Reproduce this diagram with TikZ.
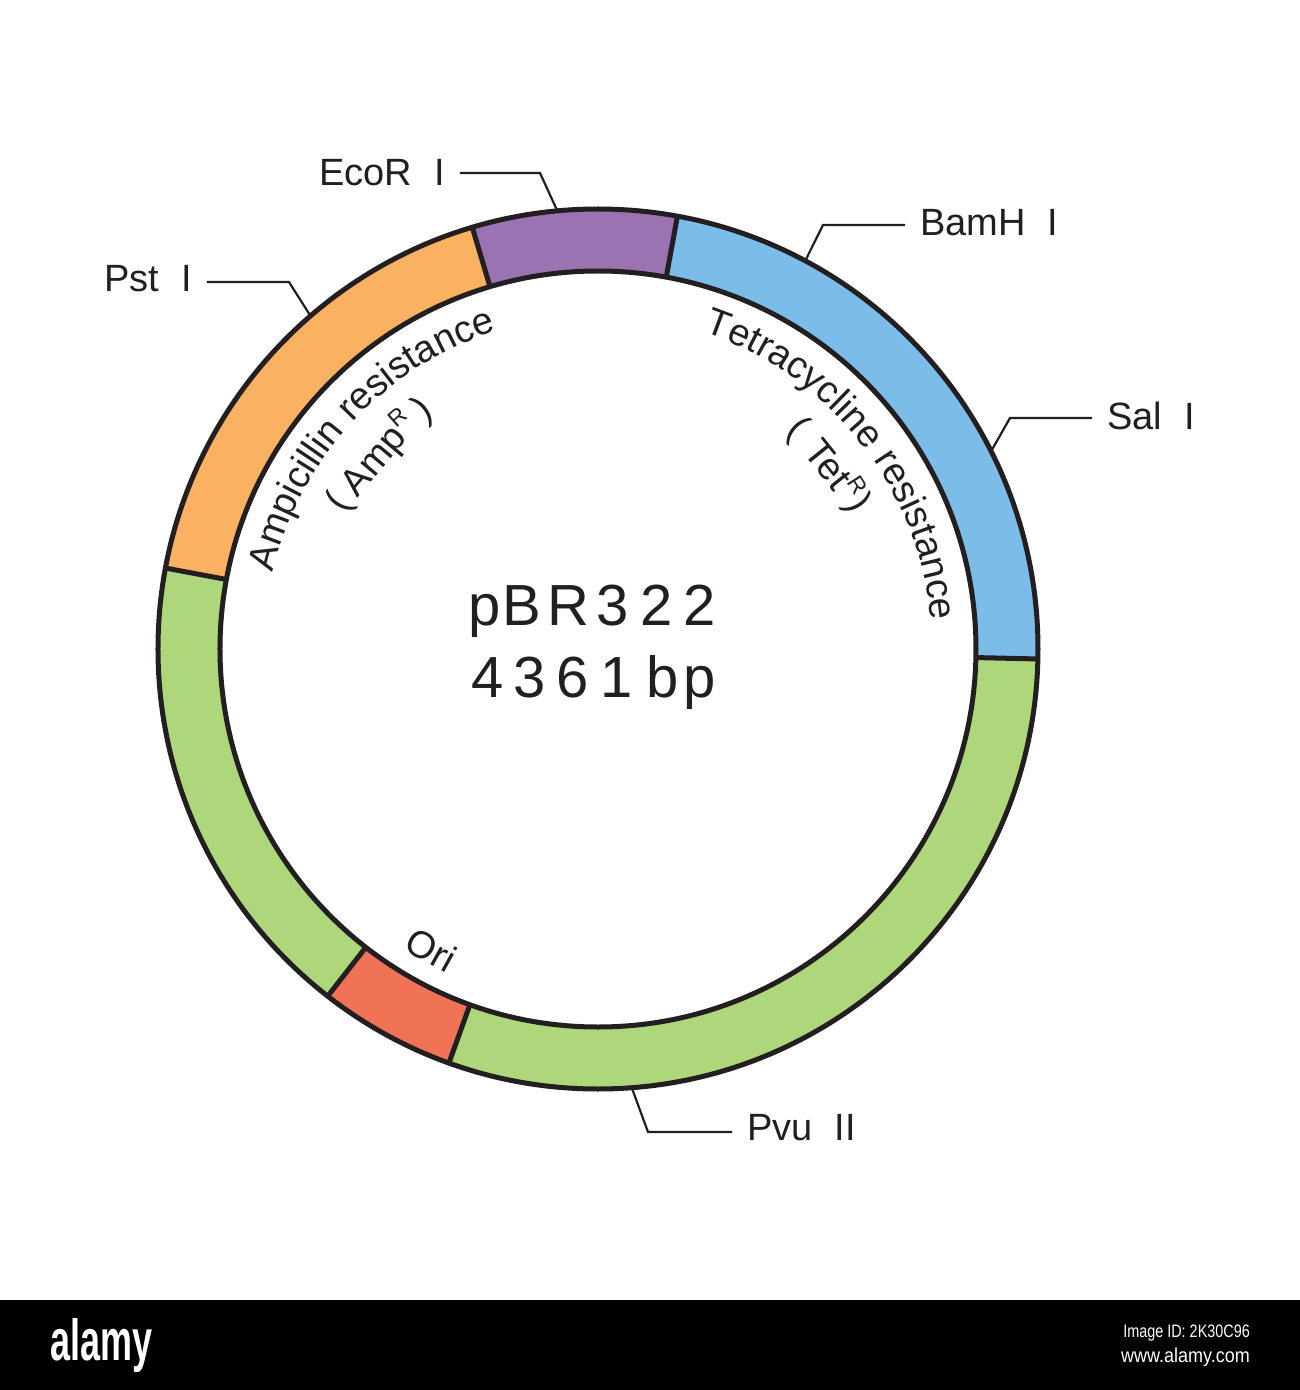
\documentclass[tikz,border=0pt]{standalone}
\usepackage{fontspec}
\usepackage{graphicx}
\setmainfont{Liberation Sans}
\usetikzlibrary{decorations.text}
\definecolor{ringline}{RGB}{35,31,32}
\definecolor{ampor}{RGB}{250,177,98}
\definecolor{ecopur}{RGB}{155,114,178}
\definecolor{tetblue}{RGB}{123,189,232}
\definecolor{bbgreen}{RGB}{174,214,122}
\definecolor{orired}{RGB}{240,115,85}
\newcommand\ringseg[3]{\fill[#1] (#2:440pt) arc[start angle=#2,end angle=#3,radius=440pt] -- (#3:378pt) arc[start angle=#3,end angle=#2,radius=378pt] -- cycle;}
\begin{document}
\begin{tikzpicture}[x=1pt,y=1pt,
  ringedge/.style={draw=ringline, line width=5pt},
  seglab/.style={font=\fontsize{38}{44}\selectfont, text=ringline, inner xsep=15pt, inner ysep=0pt},
  leader/.style={draw=ringline, line width=2.2pt, line join=miter},
  arclab/.style={font=\fontsize{38}{42}\selectfont, text=ringline, inner sep=0pt},
  suplab/.style={font=\fontsize{23}{26}\selectfont, text=ringline, inner sep=0pt},
  bigtext/.style={font=\fontsize{58}{62}\selectfont, text=ringline, inner sep=0pt, anchor=base west},
  curvetext/.style={decorate, decoration={text along path, text align=center, text color=ringline, text={#1}}},
]
\useasboundingbox (-598,-741) rectangle (702,649);
\fill[white] (-598,-741) rectangle (702,649);

% ring segments
\ringseg{ecopur}{79.6}{106.6}
\ringseg{ampor}{106.6}{169.4}
\ringseg{bbgreen}{169.4}{232.1}
\ringseg{orired}{232.1}{250.2}
\ringseg{bbgreen}{250.2}{358.7}
\ringseg{tetblue}{-1.3}{79.6}
\foreach \a in {79.6,106.6,169.4,232.1,250.2,-1.3}
  \draw[ringedge] (\a:378pt) -- (\a:440pt);
\draw[ringedge] (0,0) circle[radius=440pt];
\draw[ringedge] (0,0) circle[radius=378pt];

% restriction sites
\node[seglab, anchor=east] (ecor) at (-138,476.5) {EcoR\hspace{22pt}I};
\coordinate (ecorbend) at (-58,476);
\coordinate (ecorsite) at (95.3:440pt);
\draw[leader] (ecor.east |- ecorbend) -- (ecorbend) -- (ecorsite);

\node[seglab, anchor=west] (bamh) at (307,426.5) {BamH\hspace{22pt}I};
\coordinate (bamhbend) at (225,424);
\coordinate (bamhsite) at (61.9:440pt);
\draw[leader] (bamh.west |- bamhbend) -- (bamhbend) -- (bamhsite);

\node[seglab, anchor=west] (sal) at (494,233) {Sal\hspace{22pt}I};
\coordinate (salbend) at (412,231);
\coordinate (salsite) at (26.7:440pt);
\draw[leader] (sal.west |- salbend) -- (salbend) -- (salsite);

\node[seglab, anchor=east] (pst) at (-391,370.5) {Pst\hspace{22pt}I};
\coordinate (pstbend) at (-309,367);
\coordinate (pstsite) at (130.8:440pt);
\draw[leader] (pst.east |- pstbend) -- (pstbend) -- (pstsite);

\node[seglab, anchor=west] (pvu) at (134,-478.5) {Pvu\hspace{22pt}II};
\coordinate (pvubend) at (50,-483);
\coordinate (pvusite) at (-85.6:440pt);
\draw[leader] (pvu.west |- pvubend) -- (pvubend) -- (pvusite);

% curved gene labels
\path[curvetext={|\fontsize{38}{42}\selectfont|Ampicillin resistance}]
  (180:334pt) arc[start angle=180, end angle=94.5, radius=334pt];
\path[curvetext={|\fontsize{38}{42}\selectfont|Tetracycline resistance}]
  (80:334pt) arc[start angle=80, end angle=-3.6, radius=334pt];

\node[arclab, rotate=60] (ampo) at (150.5:296pt) {(};
\node[arclab, rotate=50] (ampw) at (140:290pt) {Amp};
\node[suplab, rotate=41] (ampr) at (130.8:307pt) {R};
\node[arclab, rotate=36.5] (ampc) at (126.2:295pt) {)};

\node[arclab, rotate=-42.4] (teto) at (47.8:296pt) {(};
\node[arclab, rotate=-51.3] (tetw) at (38.7:295pt) {Tet};
\node[suplab, rotate=-57.3] (tetr) at (32.3:307pt) {R};
\node[arclab, rotate=-60.4] (tetc) at (29.2:297pt) {)};

\node[font=\fontsize{38}{42}\selectfont, text=ringline, inner sep=0pt, rotate=-29] (ori) at (241:344pt) {Ori};

% centre title
\node[bigtext] (plasmid) at (-114,24) {\makebox[0pt]{p}\kern38pt\makebox[0pt]{B}\kern46pt\makebox[0pt]{R}\kern44pt\makebox[0pt]{3}\kern44pt\makebox[0pt]{2}\kern43pt\makebox[0pt]{2}};
\node[bigtext] (size) at (-111,-48) {\makebox[0pt]{4}\kern42pt\makebox[0pt]{3}\kern43pt\makebox[0pt]{6}\kern44pt\makebox[0pt]{1}\kern47pt\makebox[0pt]{b}\kern36pt\makebox[0pt]{p}};

% footer band
\fill[black] (-598,-741) rectangle (702,-651);
\node[font=\bfseries\fontsize{58}{60}\selectfont, text=white, inner sep=0pt, anchor=base west] (alamylogo) at (-548,-711) {\scalebox{0.62}[1]{alamy}};
\node[font=\fontsize{18}{20}\selectfont, text=white, inner sep=0pt, anchor=east] (imgid) at (652,-684) {\scalebox{0.8}[1]{Image ID: 2K30C96}};
\node[font=\fontsize{20}{22}\selectfont, text=white, inner sep=0pt, anchor=east] (website) at (652,-708) {\scalebox{0.9}[1]{www.alamy.com}};
\end{tikzpicture}
\end{document}
